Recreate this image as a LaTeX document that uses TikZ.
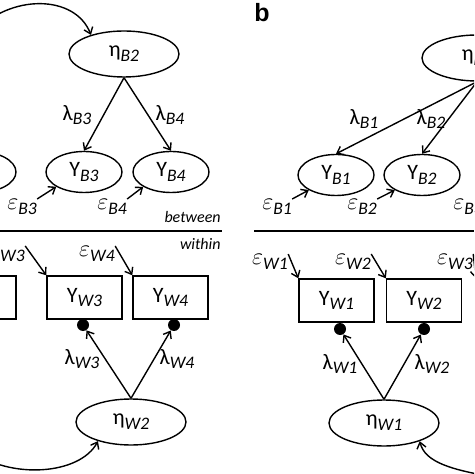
\documentclass[tikz,border=0pt]{standalone}
\usepackage{fontspec}
\setmainfont{Carlito}
\newfontfamily\arialb{Liberation Sans}
\usetikzlibrary{shapes.geometric,arrows.meta}
\newcommand{\subx}[1]{\raisebox{-2.4pt}{\fontsize{8.8}{10}\selectfont\itshape #1}}
\newcommand{\epsx}{{\fontsize{12.5}{13}\selectfont$\varepsilon$}}
\tikzset{
  x=0.5pt, y=-0.5pt,
  base/.style={line width=0.7pt},
  lat/.style={base, ellipse, draw, minimum width=55pt, minimum height=23pt, inner sep=0pt, font=\fontsize{11}{12}\selectfont},
  obs/.style={base, ellipse, draw, minimum width=38pt, minimum height=20.5pt, inner sep=0pt, font=\fontsize{11}{12}\selectfont},
  box/.style={base, rectangle, draw, minimum width=37.5pt, minimum height=21.5pt, inner sep=0pt, font=\fontsize{11}{12}\selectfont},
  lbl/.style={inner sep=0pt, font=\fontsize{11}{12}\selectfont},
  eps/.style={inner sep=0pt, font=\fontsize{11}{12}\selectfont\itshape},
  side/.style={inner sep=0pt, anchor=east, font=\fontsize{8}{9}\selectfont\itshape},
  arr/.style={base, -{Straight Barb[length=3pt,width=4.6pt]}},
  dotn/.style={circle, fill, inner sep=0pt, minimum size=6pt},
  divider/.style={line width=1.1pt}
}
\begin{document}
\begin{tikzpicture}
\useasboundingbox (0,0) rectangle (474,474);
\clip (0,0) rectangle (474,474);
% ---------------- top left (between) ----------------
\node[lat] (eB2) at (124,54) {η\subx{B2}};
\node[obs] (yB2) at (-22,172) {};
\node[obs] (yB3) at (84,172) {Υ\subx{B3}};
\node[obs] (yB4) at (171,172) {Υ\subx{B4}};
\node[lbl] (lB3) at (77,115) {λ\subx{B3}};
\node[lbl] (lB4) at (170,115) {λ\subx{B4}};
\node[eps] (epB3) at (22,207) {\epsx\subx{B3}};
\node[eps] (epB4) at (112,207) {\epsx\subx{B4}};
\coordinate (cTL) at (-25,32);
\draw[arr] (eB2.south) -- (yB3.north);
\draw[arr] (eB2.south) -- (yB4.north);
\draw[arr] (epB3.north east) -- (yB3.208);
\draw[arr] (epB4.north east) -- (yB4.208);
\draw[arr] (cTL) .. controls (10,-6) and (75,-6) .. (eB2.150);
\node[side] (between) at (221,217) {between};
\coordinate (dL1) at (0,231);
\coordinate (dL2) at (222,231);
\draw[divider] (dL1) -- (dL2);
% ---------------- top right (b) ----------------
\node[inner sep=0pt, font=\fontsize{12.5}{14}\arialb\bfseries] (blab) at (262,13) {b};
\node[lat] (eB1) at (477,58) {η\subx{B1}};
\node[obs] (yB1) at (336,175) {Υ\subx{B1}};
\node[obs] (yB2r) at (422,175) {Υ\subx{B2}};
\node[lbl] (lB1) at (364,119) {λ\subx{B1}};
\node[lbl] (lB2) at (431,119) {λ\subx{B2}};
\node[eps] (epB1) at (277,207) {\epsx\subx{B1}};
\node[eps] (epB2) at (362,207) {\epsx\subx{B2}};
\node[eps] (epB3r) at (468,207) {\epsx\subx{B3}};
\draw[arr] (eB1.south) -- (yB1.north);
\draw[arr] (eB1.south) -- (yB2r.north);
\draw[arr] (epB1.north east) -- (yB1.209);
\draw[arr] (epB2.north east) -- (yB2r.209);
\coordinate (dR1) at (254,231);
\coordinate (dR2) at (474,231);
\draw[divider] (dR1) -- (dR2);
% ---------------- bottom left (within) ----------------
\node[side] (within) at (221,244) {within};
\node[box] (bW2) at (-21.5,297.5) {};
\node[box] (bW3) at (84.5,297.5) {Υ\subx{W3}};
\node[box] (bW4) at (170.5,297.5) {Υ\subx{W4}};
\node[eps] (epW3) at (7,254) {\epsx\subx{W3}};
\node[eps] (epW4) at (97,254) {\epsx\subx{W4}};
\draw[arr] (epW3.north east) -- (bW3.north west);
\draw[arr] (epW4.north east) -- (bW4.north west);
\node[dotn] (d3) at (83,325) {};
\node[dotn] (d4) at (174,325) {};
\node[lat] (eW2) at (131,422) {η\subx{W2}};
\node[lbl] (lW3) at (82,359) {λ\subx{W3}};
\node[lbl] (lW4) at (177,359) {λ\subx{W4}};
\draw[arr] (eW2.north) -- (d3);
\draw[arr] (eW2.north) -- (d4);
\coordinate (cBL) at (-30,450);
\draw[arr] (cBL) .. controls (10,480) and (80,475) .. (eW2.210);
% ---------------- bottom right ----------------
\node[box] (bW1) at (336.5,300.5) {Υ\subx{W1}};
\node[box] (bW2r) at (424,300.5) {Υ\subx{W2}};
\node[box] (bW3r) at (514,300.5) {};
\node[eps] (epW1) at (270,262) {\epsx\subx{W1}};
\node[eps] (epW2) at (353,262) {\epsx\subx{W2}};
\node[eps] (epW3r) at (455,262) {\epsx\subx{W3}};
\draw[arr] (epW1.north east) -- (bW1.north west);
\draw[arr] (epW2.north east) -- (bW2r.north west);
\draw[arr] (epW3r.north east) -- (bW3r.north west);
\node[dotn] (d1) at (340,329) {};
\node[dotn] (d2) at (424,329) {};
\node[lat] (eW1) at (384,423) {η\subx{W1}};
\node[lbl] (lW1) at (340,364) {λ\subx{W1}};
\node[lbl] (lW2) at (432,364) {λ\subx{W2}};
\draw[arr] (eW1.north) -- (d1);
\draw[arr] (eW1.north) -- (d2);
\coordinate (cBR) at (500,478);
\draw[arr] (cBR) .. controls (450,470) and (425,462) .. (eW1.333);
\end{tikzpicture}
\end{document}
